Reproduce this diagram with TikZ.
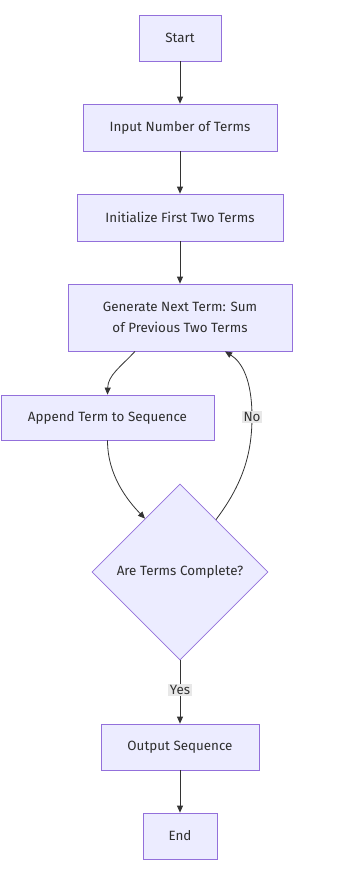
\documentclass[tikz,border=0pt]{standalone}
\usepackage{fontspec}
\setmainfont{Fira Sans}
\usetikzlibrary{arrows.meta,shapes.geometric,calc}
\definecolor{nodefill}{HTML}{ECECFF}
\definecolor{nodeline}{HTML}{9370DB}
\definecolor{edgecol}{HTML}{333333}
\definecolor{lblbg}{HTML}{E8E8E8}
\tikzset{
  box/.style={draw=nodeline, fill=nodefill, line width=0.8pt, inner sep=0pt, font=\fontsize{13.4}{20.5}\selectfont, text=edgecol!90!black, align=center},
  flow/.style={draw=edgecol, line width=0.8pt, -{Triangle[length=7pt,width=6pt]}},
  lbl/.style={fill=lblbg, inner sep=1.5pt, font=\fontsize{13.4}{15}\selectfont, text=edgecol}
}
\begin{document}
\begin{tikzpicture}[x=1pt,y=-1pt]
\useasboundingbox (0,0) rectangle (350,871);
\fill[white] (0,0) rectangle (350,871);
\node[box, minimum width=82pt, minimum height=46pt] (start) at (180,38) {Start};
\node[box, minimum width=194pt, minimum height=47pt] (input) at (180,127.5) {Input Number of Terms};
\node[box, minimum width=206pt, minimum height=47pt] (init) at (180,217.5) {Initialize First Two Terms};
\node[box, minimum width=224pt, minimum height=67pt] (gen) at (180,317.5) {Generate Next Term: Sum\\of Previous Two Terms};
\node[box, minimum width=213pt, minimum height=45pt] (app) at (107.5,417.5) {Append Term to Sequence};
\node[box, diamond, minimum width=176pt, minimum height=176pt] (dec) at (180,572) {Are Terms Complete?};
\node[box, minimum width=158pt, minimum height=46pt] (out) at (180,747) {Output Sequence};
\node[box, minimum width=74pt, minimum height=46pt] (end) at (180,836) {End};

\draw[flow] (start) -- (input);
\draw[flow] (input) -- (init);
\draw[flow] (init) -- (gen);
\draw[flow] ([xshift=-45pt]gen.south) .. controls ([xshift=-60pt,yshift=-16pt]gen.south) and ([xshift=-72pt,yshift=-24pt]gen.south) .. (app.north);
\draw[flow] (app.south) .. controls ([yshift=-35pt]app.south) and ([xshift=20pt,yshift=-60pt]app.south) .. ([xshift=-35pt,yshift=-35pt]dec.north);
\coordinate (nopt) at (252,417);
\draw[flow] ([xshift=36pt,yshift=-36pt]dec.north) .. controls (242,485) and (252,455) .. (nopt) .. controls (252,380) and (242,362) .. ([xshift=45pt]gen.south);
\node[lbl] (nolbl) at (nopt) {No};
\draw[flow] (dec.south) -- (out.north);
\node[lbl] (yeslbl) at (180,690) {Yes};
\draw[flow] (out) -- (end);
\end{tikzpicture}
\end{document}
